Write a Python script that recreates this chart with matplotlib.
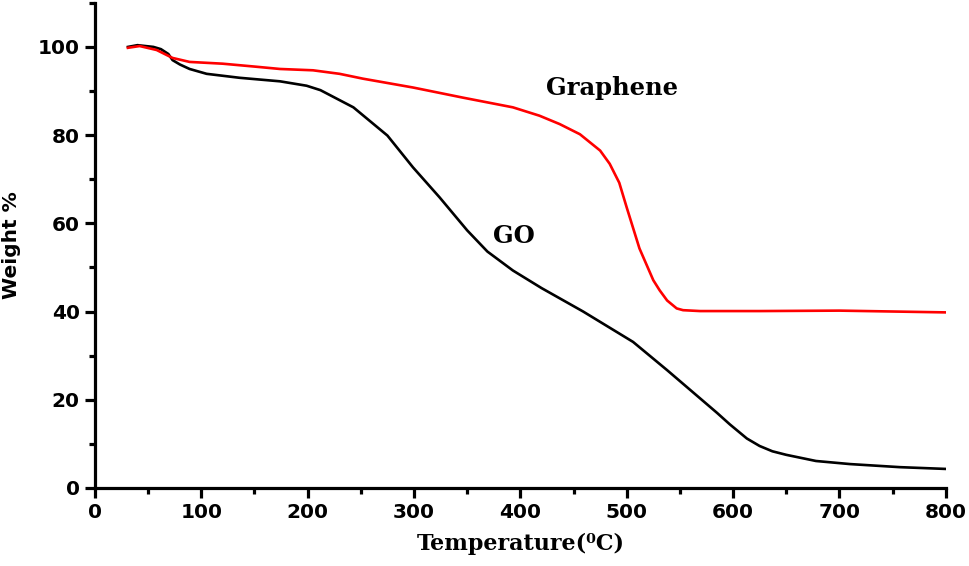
import matplotlib
matplotlib.use('Agg')
import matplotlib.pyplot as plt
from matplotlib.ticker import MultipleLocator

# ── Data ─────────────────────────────────────────────────────
go_temp = [31, 40, 55, 62, 69, 73, 80, 89, 105, 136, 174, 199, 212, 243,
           275, 299, 324, 350, 369, 393, 420, 459, 506, 538, 585,
           597, 613, 625, 637, 650, 678, 710, 757, 800]
go_weight = [100.0, 100.4, 100.0, 99.5, 98.4, 97.0, 96.0, 95.0, 93.9, 93.0,
             92.2, 91.2, 90.2, 86.3, 79.9, 72.7, 65.9, 58.4, 53.6,
             49.3, 45.3, 40.0, 33.1, 26.7, 17.0, 14.4, 11.2, 9.5,
             8.3, 7.5, 6.1, 5.4, 4.7, 4.3]

gr_temp = [31, 42, 58, 73, 89, 120, 152, 174, 205, 230, 252, 299, 346, 393,
           418, 437, 456, 475, 484, 493, 500, 512, 525, 531, 538, 547, 553,
           569, 625, 700, 800]
gr_weight = [99.8, 100.2, 99.3, 97.5, 96.6, 96.2, 95.5, 95.0, 94.7, 93.9,
             92.8, 90.8, 88.5, 86.3, 84.4, 82.5, 80.2, 76.5, 73.5, 69.2,
             63.6, 54.3, 47.1, 44.8, 42.5, 40.7, 40.3, 40.1, 40.1, 40.2, 39.8]

fig = plt.figure(figsize=(9.69, 5.66), dpi=100)
ax = fig.add_axes([0.098, 0.138, 0.878, 0.857])

ax.plot(go_temp, go_weight, '-', color='black', lw=1.9,
        solid_joinstyle='round')
ax.plot(gr_temp, gr_weight, '-', color='#ff0000', lw=1.9,
        solid_joinstyle='round')

ax.set_xlim(0, 800)
ax.set_ylim(0, 110)

ax.spines['top'].set_visible(False)
ax.spines['right'].set_visible(False)
for s in ('left', 'bottom'):
    ax.spines[s].set_linewidth(2.3)

ax.xaxis.set_major_locator(MultipleLocator(100))
ax.xaxis.set_minor_locator(MultipleLocator(50))
ax.yaxis.set_major_locator(MultipleLocator(20))
ax.yaxis.set_minor_locator(MultipleLocator(10))
ax.tick_params(which='major', direction='out', length=7, width=2.3,
               labelsize=14.5, pad=4)
ax.tick_params(which='minor', direction='out', length=4, width=2.3)
for lab in ax.get_xticklabels() + ax.get_yticklabels():
    lab.set_fontweight('bold')
    lab.set_family('DejaVu Sans')

ax.set_xlabel('Temperature(⁰C)', fontsize=16, fontweight='bold',
              family='DejaVu Serif', labelpad=8)
ax.set_ylabel('Weight %', fontsize=14.5, fontweight='bold',
              family='DejaVu Sans', labelpad=12)

ax.text(486, 90.7, 'Graphene', fontsize=17.5, fontweight='bold',
        family='DejaVu Serif', ha='center', va='center')
ax.text(394, 57.2, 'GO', fontsize=17.5, fontweight='bold',
        family='DejaVu Serif', ha='center', va='center')

fig.savefig('out.png', dpi=100, facecolor='white')
